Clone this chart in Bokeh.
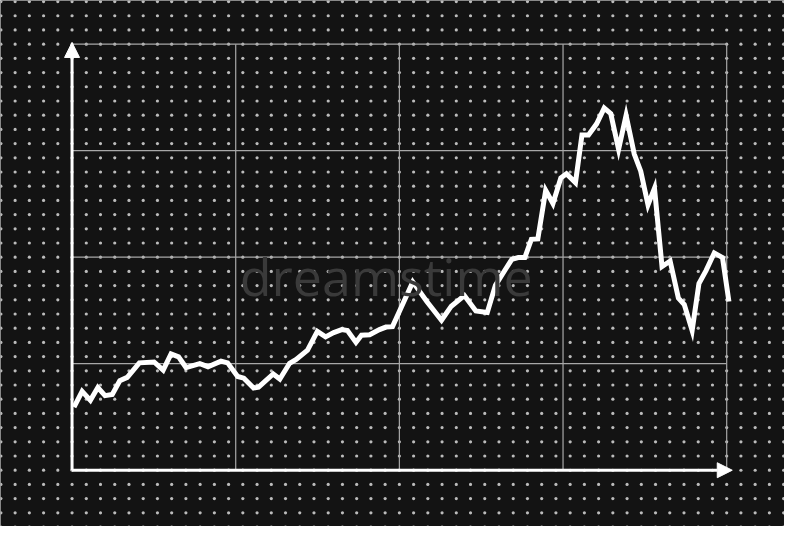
import numpy as np
from bokeh.plotting import figure
from bokeh.models import Range1d, Arrow, NormalHead, Label
from bokeh.embed import file_html
from bokeh.resources import INLINE

# --- data ---
x_vals = [0.30, 1.54, 2.80, 3.94, 5.04, 6.14, 7.29, 8.43, 10.28, 12.53,
          13.92, 15.12, 16.27, 17.41, 19.51, 20.76, 22.75, 23.76, 25.30, 26.24,
          27.74, 28.49, 30.73, 31.74, 33.23, 34.24, 35.97, 37.47, 38.73, 39.97,
          41.21, 42.07, 43.37, 44.21, 45.46, 46.96, 47.95, 48.95, 52.05, 54.19,
          56.44, 57.93, 59.93, 61.68, 63.43, 64.67, 67.17, 68.16, 69.16, 70.16,
          71.15, 72.35, 73.46, 74.66, 75.52, 76.90, 77.89, 78.89, 80.13, 81.29,
          82.29, 83.49, 84.63, 85.88, 86.87, 87.98, 88.97, 90.12, 91.36, 92.62,
          93.52, 94.72, 95.76, 96.86, 98.10, 99.36, 100.34]
y_vals = [14.8, 18.5, 16.4, 19.4, 17.5, 17.8, 21.0, 21.8, 25.2, 25.4,
          23.5, 27.3, 26.6, 24.1, 25.0, 24.3, 25.6, 25.2, 22.0, 21.6,
          19.3, 19.5, 22.6, 21.4, 25.1, 26.0, 28.2, 32.6, 31.3, 32.3,
          33.0, 32.8, 30.0, 31.7, 31.8, 33.0, 33.6, 33.7, 44.2, 39.6,
          35.2, 38.5, 41.0, 37.4, 37.0, 43.4, 49.5, 49.9, 49.9, 54.2,
          54.3, 65.7, 62.6, 68.6, 69.6, 67.5, 78.7, 78.7, 81.3, 85.0,
          83.7, 75.3, 83.3, 74.2, 70.2, 62.3, 66.2, 47.8, 49.1, 40.4,
          38.9, 32.8, 43.8, 46.9, 51.0, 49.9, 39.6]
grid_ticks = [0, 25, 50, 75, 100]
watermark = "dreamstime"

BG = "#131313"
X0, X1 = -10.93, 108.83
Y0, Y1 = -13.21, 110.25

p = figure(width=784, height=526, x_range=Range1d(X0, X1), y_range=Range1d(Y0, Y1),
           output_backend="svg", toolbar_location=None, min_border=0,
           x_axis_type=None, y_axis_type=None,
           background_fill_color=BG, border_fill_color=BG, outline_line_color=None)

# dotted background pattern
dx = 100 / 46
dy = 100 / 30
kx = np.arange(int(np.floor(X0 / dx)), int(np.ceil(X1 / dx)) + 1)
ky = np.arange(int(np.floor(Y0 / dy)), int(np.ceil(Y1 / dy)) + 1)
gx, gy = np.meshgrid(kx * dx, ky * dy)
p.scatter(gx.ravel(), gy.ravel(), size=3.2, fill_color="#bcbcbc", line_color=None)

# watermark
p.add_layout(Label(x=48, y=45.8, text=watermark, text_align="center", text_baseline="middle",
                   text_font="Open Sans", text_font_size="52px", text_color="#3a3a3a"))

# grid lines (inside the chart box)
gmin, gmax = grid_ticks[0], grid_ticks[-1]
p.segment(x0=grid_ticks[1:], y0=[gmin] * 4, x1=grid_ticks[1:], y1=[gmax] * 4,
          line_color="#a8a8a8", line_width=1.2)
p.segment(x0=[gmin] * 4, y0=grid_ticks[1:], x1=[gmax] * 4, y1=grid_ticks[1:],
          line_color="#a8a8a8", line_width=1.2)

# axes with arrows
p.add_layout(Arrow(end=NormalHead(size=15, fill_color="white", line_color="white"),
                   x_start=0, y_start=0, x_end=0, y_end=100.4,
                   line_color="white", line_width=3))
p.add_layout(Arrow(end=NormalHead(size=15, fill_color="white", line_color="white"),
                   x_start=0, y_start=0, x_end=100.85, y_end=0,
                   line_color="white", line_width=3))

# the series
p.line(x_vals, y_vals, line_color="white", line_width=5, line_join="miter")

open("out.html", "w").write(file_html(p, INLINE))
